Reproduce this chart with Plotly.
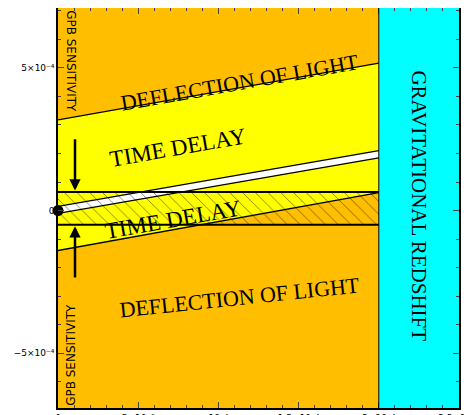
import plotly.graph_objects as go

x_ends = [0, 2e-4]
defl_upper = [3.18e-4, 5.17e-4]
white_top = [0.15e-4, 2.1e-4]
white_bot = [-0.1e-4, 1.85e-4]
defl_lower = [-1.4e-4, 0.63e-4]
gpb_band = [-0.5e-4, 0.65e-4]
x_max = 2.5e-4
y_range = [-6.92e-4, 7.1e-4]

ORANGE = "#FFBF00"
YEL = "#FFFF00"
CYAN = "#00FFFF"
fig = go.Figure()
def poly(xs, ys, **kw):
    fig.add_trace(go.Scatter(x=xs, y=ys, mode="lines", fill="toself", hoverinfo="skip", showlegend=False, **kw))

poly([2e-4, x_max, x_max, 2e-4], [y_range[0], y_range[0], y_range[1], y_range[1]], fillcolor=CYAN, line=dict(width=0))
poly(x_ends + x_ends[::-1], white_top + defl_upper[::-1], fillcolor=YEL, line=dict(width=0))
poly(x_ends + x_ends[::-1], defl_lower + white_bot[::-1], fillcolor=YEL, line=dict(width=0))
poly(x_ends + x_ends[::-1], white_bot + white_top[::-1], fillcolor="white", line=dict(width=0))
poly([0, 2e-4, 2e-4, 0], [gpb_band[0], gpb_band[0], gpb_band[1], gpb_band[1]], fillcolor="rgba(0,0,0,0)",
     fillpattern=dict(shape="\\", fgcolor="black", bgcolor="rgba(0,0,0,0)", size=9, solidity=0.1), line=dict(width=0))
for ys in [defl_upper, white_top, white_bot, defl_lower]:
    fig.add_trace(go.Scatter(x=x_ends, y=ys, mode="lines", line=dict(color="black", width=1.3), showlegend=False, hoverinfo="skip"))
for yv in gpb_band:
    fig.add_trace(go.Scatter(x=x_ends, y=[yv, yv], mode="lines", line=dict(color="black", width=2), showlegend=False, hoverinfo="skip"))
fig.add_trace(go.Scatter(x=[0], y=[0], mode="markers", marker=dict(color="black", size=11), showlegend=False, cliponaxis=False))
fig.add_shape(type="line", x0=2e-4, x1=2e-4, y0=y_range[0], y1=y_range[1], line=dict(color="black", width=1))

F = "Liberation Serif"
def txt(x, y, t, ang, size):
    fig.add_annotation(x=x, y=y, text=t, textangle=ang, showarrow=False, font=dict(family=F, size=size, color="black"))
txt(1.13e-4, 4.5e-4, "DEFLECTION OF LIGHT", -10, 22)
txt(0.75e-4, 2.2e-4, "TIME DELAY", -10, 23)
txt(0.72e-4, -0.3e-4, "TIME DELAY", -10, 23)
txt(1.13e-4, -3.05e-4, "DEFLECTION OF LIGHT", -6, 22)
txt(2.25e-4, 0.15e-4, "GRAVITATIONAL REDSHIFT", 90, 21)
fig.add_annotation(x=0.08e-4, y=7.1e-4, yanchor="top", text="GPB SENSITIVITY", textangle=90, showarrow=False, font=dict(family="DejaVu Sans", size=12, color="black"))
fig.add_annotation(x=0.08e-4, y=-6.92e-4, yanchor="bottom", text="GPB SENSITIVITY", textangle=-90, showarrow=False, font=dict(family="DejaVu Sans", size=12, color="black"))
fig.add_annotation(x=1.06e-5, y=0.7e-4, ax=1.06e-5, ay=2.55e-4, xref="x", yref="y", axref="x", ayref="y", text="", showarrow=True, arrowhead=2, arrowwidth=2.5, arrowsize=0.9, arrowcolor="black")
fig.add_annotation(x=1.06e-5, y=-0.55e-4, ax=1.06e-5, ay=-2.4e-4, xref="x", yref="y", axref="x", ayref="y", text="", showarrow=True, arrowhead=2, arrowwidth=2.5, arrowsize=0.9, arrowcolor="black")
fig.add_annotation(x=-0.1e-4, y=0, xref="x", yref="y", text="γ", showarrow=False, xanchor="right", textangle=-90, font=dict(family=F, size=16, color="black"))

ax = dict(showgrid=False, zeroline=False, ticks="inside", mirror="allticks", showline=True, linecolor="black", linewidth=1.5,
          tickfont=dict(family="DejaVu Sans", size=9, color="black"), automargin=False)
fig.update_xaxes(**ax, range=[0, x_max], tickvals=[0, 5e-5, 1e-4, 1.5e-4, 2e-4, 2.5e-4],
                 ticktext=["0", "5×10⁻⁵", "10⁻⁴", "1.5×10⁻⁴", "2×10⁻⁴", "2.5×10⁻⁴"],
                 minor=dict(ticks="inside", dtick=1e-5, ticklen=3), ticklen=6)
fig.update_yaxes(**ax, range=y_range, tickvals=[-5e-4, 0, 5e-4], ticktext=["−5×10⁻⁴", "0", "5×10⁻⁴"],
                 minor=dict(ticks="inside", dtick=1e-4, ticklen=3), ticklen=6)
fig.update_layout(width=474, height=415, margin=dict(l=50, r=23, t=0, b=15), plot_bgcolor=ORANGE, paper_bgcolor="white")
fig.write_html("out.html")
